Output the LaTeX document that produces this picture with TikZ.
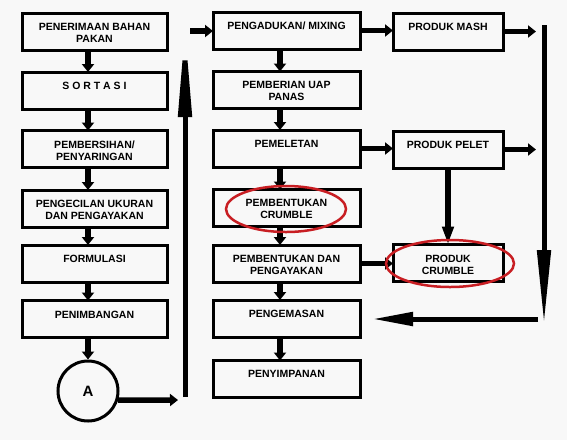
\documentclass[tikz,border=0pt]{standalone}
\usepackage{fontspec}
\setmainfont{Liberation Sans}
\usetikzlibrary{arrows.meta}
\definecolor{bg}{RGB}{248,248,248}
\definecolor{hl}{RGB}{200,30,35}
\begin{document}
\begin{tikzpicture}[x=1pt,y=-1pt,
  box/.style={draw,line width=3pt,inner sep=0pt,outer sep=0pt,minimum height=37pt},
  lbox/.style={box,minimum width=145pt},
  mbox/.style={box,minimum width=147pt},
  rbox/.style={box,minimum width=110pt},
  txt/.style={anchor=north,inner sep=0pt,align=center,font=\bfseries\fontsize{10.5}{12}\selectfont,yshift=-10pt},
  flow/.style={line width=5.5pt,-{Triangle[width=12pt,length=8pt]}},
  long/.style={line width=5pt},
  ring/.style={draw=hl,line width=2.5pt}
]
\useasboundingbox (0,0) rectangle (567,440);
\fill[bg] (0,0) rectangle (567,440);

% left column
\node[lbox] (L1) at (94.5,31.5) {};
\node[lbox] (L2) at (94.5,90.5) {};
\node[lbox] (L3) at (94.5,149) {};
\node[lbox] (L4) at (94.5,208.5) {};
\node[lbox] (L5) at (94.5,263.5) {};
\node[lbox] (L6) at (94.5,319) {};
\node[txt] (tL1) at (L1.north) {PENERIMAAN BAHAN\\PAKAN};
\node[txt] (tL2) at (L2.north) {S O R T A S I};
\node[txt] (tL3) at (L3.north) {PEMBERSIHAN/\\PENYARINGAN};
\node[txt] (tL4) at (L4.north) {PENGECILAN UKURAN\\DAN PENGAYAKAN};
\node[txt] (tL5) at (L5.north) {FORMULASI};
\node[txt] (tL6) at (L6.north) {PENIMBANGAN};
\node[draw,circle,line width=3pt,minimum size=60pt,inner sep=0pt,
      font=\bfseries\fontsize{15}{15}\selectfont] (A) at (88,391) {A};

% middle column
\node[mbox] (M1) at (286.5,30.5) {};
\node[mbox] (M2) at (286.5,90) {};
\node[mbox] (M3) at (286.5,148.5) {};
\node[mbox] (M4) at (286.5,208) {};
\node[mbox] (M5) at (286.5,263.5) {};
\node[mbox] (M6) at (286.5,318.5) {};
\node[mbox] (M7) at (286.5,379) {};
\node[txt] (tM1) at (M1.north) {PENGADUKAN/ MIXING};
\node[txt] (tM2) at (M2.north) {PEMBERIAN UAP\\PANAS};
\node[txt] (tM3) at (M3.north) {PEMELETAN};
\node[txt] (tM4) at (M4.north) {PEMBENTUKAN\\CRUMBLE};
\node[txt] (tM5) at (M5.north) {PEMBENTUKAN DAN\\PENGAYAKAN};
\node[txt] (tM6) at (M6.north) {PENGEMASAN};
\node[txt] (tM7) at (M7.north) {PENYIMPANAN};

% right column
\node[rbox] (R1) at (448,31.5) {};
\node[rbox] (R2) at (448,149.5) {};
\node[rbox] (R3) at (448,263) {};
\node[txt] (tR1) at (R1.north) {PRODUK MASH};
\node[txt] (tR2) at (R2.north) {PRODUK PELET};
\node[txt] (tR3) at (R3.north) {PRODUK\\CRUMBLE};

% helper coordinates
\coordinate (mx) at (280,0);
\coordinate (Lb) at (185,397);
\coordinate (Lt) at (185,25);
\coordinate (Tin) at (190,31);
\coordinate (Ae) at (178,400);
\coordinate (Rm) at (536,0);
\coordinate (Rt) at (544,25);
\coordinate (Rb) at (544,325);
\coordinate (Bs) at (538,319);
\coordinate (Be) at (372,319);

% left flow
\draw[flow] (L1.south -| A) -- (L2.north -| A);
\draw[flow] (L2.south -| A) -- (L3.north -| A);
\draw[flow] (L3.south -| A) -- (L4.north -| A);
\draw[flow] (L4.south -| A) -- (L5.north -| A);
\draw[flow] (L5.south -| A) -- (L6.north -| A);
\draw[flow] (L6.south -| A) -- (A);
\draw[flow] (A.-17) -- (Ae);
\draw[long,-{Triangle[width=13pt,length=92pt]}] (Lb) -- (Lt);
\draw[flow] (Tin) -- (Tin -| M1.west);

% middle flow
\draw[flow] (M1.south -| mx) -- (M2.north -| mx);
\draw[flow] (M2.south -| mx) -- (M3.north -| mx);
\draw[flow] (M3.south -| mx) -- (M4.north -| mx);
\draw[flow] (M4.south -| mx) -- (M5.north -| mx);
\draw[flow] (M5.south -| mx) -- (M6.north -| mx);
\draw[flow] (M6.south -| mx) -- (M7.north -| mx);

% to products
\draw[flow] (M1.east) -- (M1.east -| R1.west);
\draw[flow] (M3.east) -- (M3.east -| R2.west);
\draw[flow] (M5.east) -- (M5.east -| R3.west);
\draw[flow] (R1.east) -- (R1.east -| Rm);
\draw[flow] (R2.east) -- (R2.east -| Rm);
\draw[line width=5.5pt,-{Triangle[width=11pt,length=18pt]}] (R2.south) -- (R3.north);

% return path
\draw[long,-{Triangle[width=13pt,length=75pt]}] (Rt) -- (Rb);
\draw[long,-{Triangle[width=13pt,length=41pt]}] (Bs) -- (Be);

% highlights
\draw[ring] (286,209) ellipse [x radius=60pt, y radius=23pt];
\draw[ring] (450,263.5) ellipse [x radius=64pt, y radius=23.5pt];
\end{tikzpicture}
\end{document}
